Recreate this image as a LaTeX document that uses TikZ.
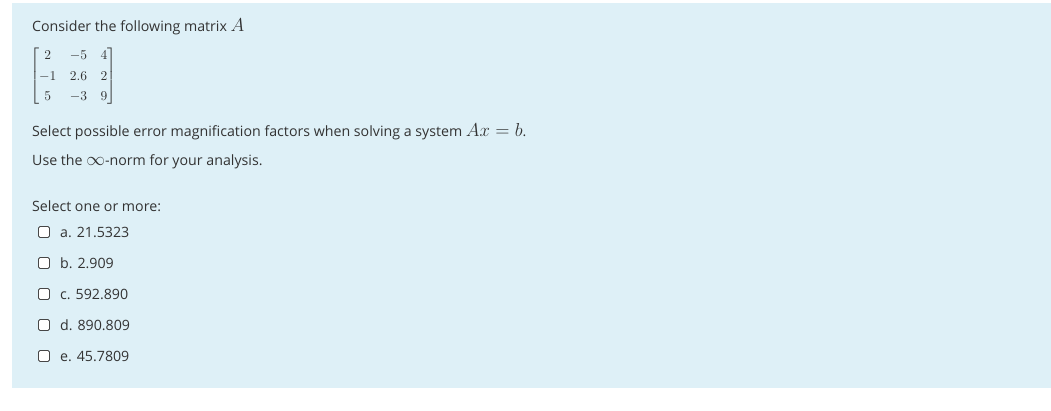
\documentclass[tikz,border=0pt]{standalone}
\usepackage{amsmath}
\usepackage{fontspec}
\setmainfont{Open Sans}
\definecolor{bg}{HTML}{DEF0F7}
\definecolor{txt}{HTML}{333333}
\newcommand{\mym}[1]{\scalebox{1.3}{$#1$}}
\begin{document}
\begin{tikzpicture}[x=1pt,y=-1pt,
  t/.style={anchor=west,inner sep=0pt,text=txt,font=\fontsize{14.2}{17}\selectfont},
  cb/.style={draw=txt!90,fill=white,rounded corners=1.5pt,minimum size=11pt,inner sep=0pt,line width=0.8pt}]
\useasboundingbox (0,0) rectangle (1051,411);
\fill[bg] (12,3) rectangle (1051,388);
\node[t] (q1) at (32,27) {Consider the following matrix \mym{A}};
\node[anchor=west,inner sep=0pt,text=txt] (m) at (30,76)
  {\scalebox{1.35}{$\renewcommand{\arraystretch}{1.25}\begin{bmatrix}2&-5&4\\-1&2.6&2\\5&-3&9\end{bmatrix}$}};
\node[t] (q2) at (32,132) {Select possible error magnification factors when solving a system \mym{Ax=b}.};
\node[t] (q3) at (32,162) {Use the \mym{\infty}-norm for your analysis.};
\node[t] (sel) at (32,206) {Select one or more:};
\foreach \y/\l/\n in {232/a. 21.5323/a,263/b. 2.909/b,294/c. 592.890/c,325/d. 890.809/d,356/e. 45.7809/e}{
  \node[cb] (c\n) at (44,\y) {};
  \node[t] (o\n) at (60,\y) {\l};
}
\end{tikzpicture}
\end{document}
